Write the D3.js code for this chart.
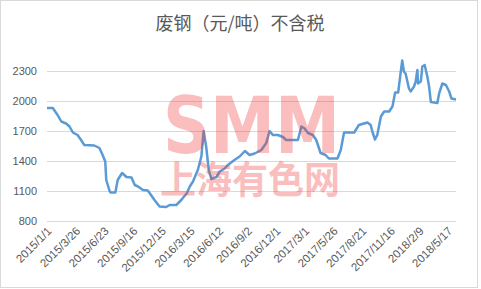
<!DOCTYPE html>
<html>
<head>
<meta charset="utf-8">
<script src="https://cdn.jsdelivr.net/npm/d3@7"></script>
<style>
  body { margin: 0; background: #fff; }
</style>
</head>
<body>
<div id="chart"></div>
<script>
// data
var dates = [
  "2015/1/1", "2015/1/18", "2015/2/1", "2015/2/12", "2015/2/26", "2015/3/8", "2015/3/18",
  "2015/4/1", "2015/4/12", "2015/4/22", "2015/5/23", "2015/6/8", "2015/6/18", "2015/6/26",
  "2015/6/29", "2015/7/9", "2015/7/12", "2015/7/26", "2015/8/2", "2015/8/15", "2015/8/28",
  "2015/9/12", "2015/9/22", "2015/10/2", "2015/10/18", "2015/11/2", "2015/11/23", "2015/12/9",
  "2015/12/30", "2016/1/10", "2016/1/31", "2016/2/16", "2016/2/21", "2016/3/4", "2016/3/14",
  "2016/3/24", "2016/4/8", "2016/4/19", "2016/4/26", "2016/5/4", "2016/5/12", "2016/5/20",
  "2016/6/5", "2016/6/15", "2016/6/29", "2016/7/8", "2016/7/27", "2016/8/11", "2016/8/26",
  "2016/9/9", "2016/9/25", "2016/10/16", "2016/10/31", "2016/11/11", "2016/11/21", "2016/12/7",
  "2016/12/23", "2017/1/2", "2017/2/8", "2017/2/19", "2017/3/1", "2017/3/11", "2017/3/26",
  "2017/4/5", "2017/4/18", "2017/5/3", "2017/5/13", "2017/6/8", "2017/6/18", "2017/6/28",
  "2017/7/29", "2017/8/12", "2017/9/7", "2017/9/17", "2017/9/22", "2017/9/30", "2017/10/7",
  "2017/10/18", "2017/10/28", "2017/11/12", "2017/11/22", "2017/11/30", "2017/12/9", "2017/12/16",
  "2017/12/21", "2017/12/26", "2017/12/31", "2018/1/10", "2018/1/15", "2018/1/25", "2018/1/30",
  "2018/2/4", "2018/2/6", "2018/2/15", "2018/2/20", "2018/2/28", "2018/3/9", "2018/3/15",
  "2018/3/21", "2018/4/12", "2018/4/18", "2018/4/29", "2018/5/11", "2018/5/21", "2018/5/27",
  "2018/6/8"
];
var prices = [
  1930, 1930, 1860, 1795, 1775, 1745, 1685,
  1660, 1610, 1560, 1555, 1530, 1460, 1395,
  1210, 1100, 1085, 1085, 1210, 1280, 1240,
  1235, 1160, 1145, 1110, 1105, 1010, 945,
  940, 960, 960, 1010, 1030, 1075, 1145,
  1195, 1310, 1445, 1700, 1545, 1310, 1220,
  1240, 1295, 1325, 1360, 1410, 1445, 1500,
  1460, 1475, 1510, 1577, 1700, 1660, 1660,
  1640, 1610, 1610, 1745, 1725, 1680, 1660,
  1610, 1480, 1460, 1425, 1425, 1510, 1685,
  1685, 1760, 1785, 1760, 1695, 1615, 1660,
  1845, 1895, 1895, 1945, 2085, 2085, 2275,
  2405, 2295, 2275, 2125, 2095, 2145, 2195,
  2310, 2175, 2195, 2345, 2360, 2245, 2145,
  1990, 1980, 2075, 2175, 2160, 2095, 2025,
  2015
];
var tickLabels = [
  "2015/1/1", "2015/3/26", "2015/6/23", "2015/9/16", "2015/12/15",
  "2016/3/15", "2016/6/12", "2016/9/2", "2016/12/1", "2017/3/1",
  "2017/5/26", "2017/8/21", "2017/11/16", "2018/2/9", "2018/5/17"
];
var yTicks = [800, 1100, 1400, 1700, 2000, 2300];
var title = "废钢（元/吨）不含税";

var W = 481, H = 289;
var margin = { top: 71, right: 25, bottom: 68, left: 47 },
  width = W - margin.left - margin.right,
  height = H - margin.top - margin.bottom;

var parse = d3.timeParse("%Y/%m/%d");
var data = dates.map(function (d, i) {
  return { date: parse(d), value: prices[i] };
});

var svg = d3.select("#chart").append("svg")
  .attr("width", W)
  .attr("height", H);

// outer frame
svg.append("rect")
  .attr("x", 0.5).attr("y", 0.5)
  .attr("width", 477).attr("height", 287)
  .attr("fill", "#fff")
  .attr("stroke", "#d9d9d9");

// title
svg.append("text")
  .attr("x", 240)
  .attr("y", 30)
  .attr("text-anchor", "middle")
  .attr("font-family", "'Noto Sans CJK SC', sans-serif")
  .attr("font-size", "18px")
  .attr("fill", "#595959")
  .text(title);

var g = svg.append("g")
  .attr("transform", "translate(" + margin.left + "," + margin.top + ")");

// category-like x: label dates evenly spaced (piecewise time scale)
var step = 28.62;
var tickDates = tickLabels.map(parse);
var lastDate = data[data.length - 1].date;
var x = d3.scaleTime()
  .domain(tickDates.concat([lastDate]))
  .range(tickDates.map(function (d, i) { return i * step; }).concat([width]));

var y = d3.scaleLinear().domain([800, 2300]).range([height, 0]);

// gridlines + y labels
var yAxis = g.append("g")
  .call(d3.axisLeft(y).tickValues(yTicks).tickSize(-width).tickPadding(10)
    .tickFormat(d3.format("d")));
yAxis.select(".domain").remove();
yAxis.selectAll(".tick line").attr("stroke", "#d9d9d9");
yAxis.selectAll(".tick text")
  .attr("fill", "#595959")
  .attr("font-family", "'Liberation Sans', Arial, sans-serif")
  .attr("font-size", "11px");

// x labels, rotated
var xAxis = g.append("g")
  .attr("transform", "translate(0," + height + ")")
  .call(d3.axisBottom(x).tickValues(tickDates).tickSize(0)
    .tickFormat(function (d, i) { return tickLabels[i]; }));
xAxis.select(".domain").remove();
xAxis.selectAll(".tick text")
  .attr("fill", "#595959")
  .attr("font-family", "'Liberation Sans', Arial, sans-serif")
  .attr("font-size", "11.5px")
  .attr("text-anchor", "end")
  .attr("dx", "0.25em")
  .attr("dy", "0.35em")
  .attr("y", 10)
  .attr("transform", "rotate(-45 0 10)");

// the line
var line = d3.line()
  .x(function (d) { return x(d.date); })
  .y(function (d) { return y(d.value); });

g.append("path")
  .datum(data)
  .attr("fill", "none")
  .attr("stroke", "#5b9bd5")
  .attr("stroke-width", 2.5)
  .attr("stroke-linejoin", "round")
  .attr("d", line);

// watermark (one text block, two lines)
var wm = svg.append("text")
  .attr("opacity", 0.33)
  .attr("fill", "#f03c3c")
  .attr("font-weight", "bold");
wm.append("tspan")
  .attr("x", 163)
  .attr("y", 153)
  .attr("textLength", 177)
  .attr("lengthAdjust", "spacingAndGlyphs")
  .attr("font-family", "'DejaVu Sans', sans-serif")
  .attr("font-size", "78px")
  .text("SMM");
wm.append("tspan")
  .attr("x", 160)
  .attr("y", 193)
  .attr("textLength", 180)
  .attr("lengthAdjust", "spacingAndGlyphs")
  .attr("font-family", "'Noto Sans CJK SC', sans-serif")
  .attr("font-size", "38px")
  .text("上海有色网");
</script>
</body>
</html>
